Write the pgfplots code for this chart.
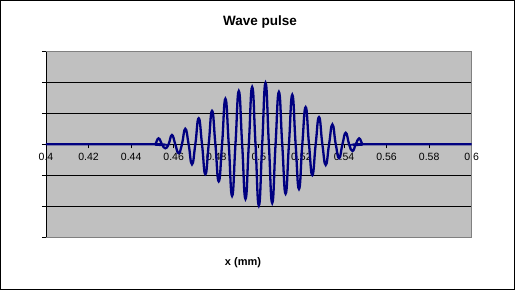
\documentclass[border=0pt]{standalone}
\usepackage{fontspec}
\setmainfont{Liberation Sans}
\usepackage{pgfplots}
\pgfplotsset{compat=1.18}
\definecolor{plotgray}{RGB}{192,192,192}
\definecolor{framegray}{RGB}{128,128,128}
\definecolor{wavenavy}{RGB}{0,0,128}
\begin{document}
\begin{tikzpicture}[x=1pt,y=1pt]
\useasboundingbox (0,0) rectangle (515,290);
\draw[black, line width=1pt] (0.5,0.5) rectangle (514.5,289.5);
\node[font=\fontsize{13.5}{15}\selectfont\bfseries] at (260,267.5) {Wave pulse};
\node[font=\fontsize{11}{13}\selectfont\bfseries] at (243,27.3) {x (mm)};
\begin{axis}[
  at={(46pt,53pt)}, anchor=south west,
  width=425.7pt, height=185.5pt, scale only axis,
  xmin=0.4, xmax=0.6, ymin=-3, ymax=3,
  axis x line=middle, axis y line=left,
  axis line style={-, black, line width=0.9pt},
  hide obscured x ticks=false,
  xtick={0.4,0.42,0.44,0.46,0.48,0.5,0.52,0.54,0.56,0.58,0.6},
  xticklabels={0.4,0.42,0.44,0.46,0.48,0.5,0.52,0.54,0.56,0.58,0.6},
  ytick={-3,-2,-1,0,1,2,3},
  yticklabels={},
  tick align=outside,
  major tick length=4pt,
  tick style={black, line width=0.9pt},
  ymajorgrids, grid style={black, line width=0.9pt},
  axis background/.style={fill=plotgray},
  tick label style={font=\fontsize{10.5}{12}\selectfont},
  xticklabel style={yshift=-1pt},
  clip=false,
]
\draw[framegray, line width=1pt] (rel axis cs:0,1) -- (rel axis cs:1,1) -- (rel axis cs:1,0) -- (rel axis cs:0,0);
\addplot[wavenavy, line width=2.3pt, smooth, tension=0.85] coordinates {
(0.4,0) (0.45,0) (0.45131,0)
(0.45288,0.19) (0.45445,0)
(0.45602,-0.13) (0.45759,0)
(0.45916,0.30) (0.46073,0)
(0.46230,-0.29) (0.46387,0)
(0.46544,0.50) (0.46701,0)
(0.46858,-0.65) (0.47016,0)
(0.47173,0.84) (0.47330,0)
(0.47487,-0.97) (0.47644,0)
(0.47801,1.08) (0.47958,0)
(0.48115,-1.20) (0.48272,0)
(0.48429,1.47) (0.48586,0)
(0.48743,-1.67) (0.48901,0)
(0.49058,1.72) (0.49215,0)
(0.49372,-1.77) (0.49529,0)
(0.49686,1.85) (0.49843,0)
(0.50000,-1.98) (0.50157,0)
(0.50314,1.98) (0.50471,0)
(0.50628,-1.90) (0.50785,0)
(0.50942,1.69) (0.51099,0)
(0.51257,-1.60) (0.51414,0)
(0.51571,1.60) (0.51728,0)
(0.51885,-1.45) (0.52042,0)
(0.52199,1.20) (0.52356,0)
(0.52513,-1.00) (0.52670,0)
(0.52827,0.88) (0.52984,0)
(0.53142,-0.67) (0.53299,0)
(0.53456,0.64) (0.53613,0)
(0.53770,-0.45) (0.53927,0)
(0.54084,0.37) (0.54241,0)
(0.54398,-0.22) (0.54555,0)
(0.54712,0.19) (0.54869,0)
(0.55,0) (0.6,0)
};
\end{axis}
\end{tikzpicture}
\end{document}
